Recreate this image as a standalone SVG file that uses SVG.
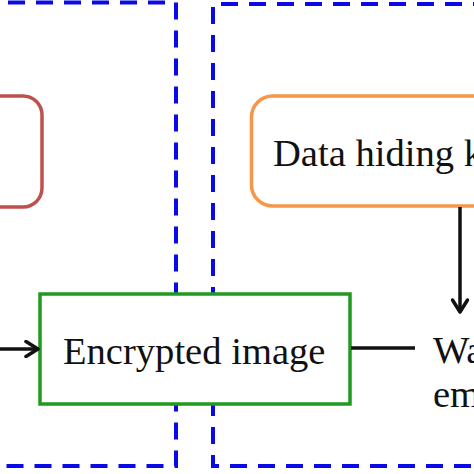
<svg xmlns="http://www.w3.org/2000/svg" width="474" height="474" viewBox="0 0 474 474">
<style>
.region{fill:none;stroke:#0a0ae6;stroke-width:4;stroke-dasharray:17 11}
.lbl{font-family:"Liberation Serif","Times New Roman",serif;font-size:38.6px;fill:#111}
.conn{stroke:#111;stroke-width:3.5;fill:none}
</style>
<defs>
<marker id="arr" viewBox="0 0 16 18" refX="14" refY="9" markerWidth="16" markerHeight="18" markerUnits="userSpaceOnUse" orient="auto">
<path d="M2,1.5 L14,9 L2,16.5" fill="none" stroke="#111" stroke-width="3.5" stroke-linecap="round" stroke-linejoin="round"/>
</marker>
</defs>
<g id="regions">
<path class="region" d="M-20,2.5 H176 V466 H-20"/>
<path class="region" d="M490,4 H213 V466 H490"/>
</g>
<g id="node-left">
<rect x="-60" y="96" width="102" height="111" rx="19" fill="#fff" stroke="#c0504d" stroke-width="3.5"/>
</g>
<g id="node-key">
<rect x="251.5" y="96" width="260" height="110" rx="21" fill="#fff" stroke="#f79646" stroke-width="3.5"/>
<text class="lbl" x="273" y="166">Data hiding k</text>
</g>
<g id="node-encrypted">
<rect x="40" y="294" width="310" height="110" fill="#fff" stroke="#1f9a1f" stroke-width="3.5"/>
<text class="lbl" x="63" y="364">Encrypted image</text>
</g>
<g id="node-right">
<text class="lbl" x="433" y="363">Wa</text>
<text class="lbl" x="433" y="407">em</text>
</g>
<g id="connectors">
<line class="conn" x1="0" y1="349" x2="38" y2="349" marker-end="url(#arr)"/>
<line class="conn" x1="460" y1="207" x2="460" y2="312" marker-end="url(#arr)"/>
<line class="conn" x1="351" y1="348" x2="415" y2="348"/>
</g>
</svg>
